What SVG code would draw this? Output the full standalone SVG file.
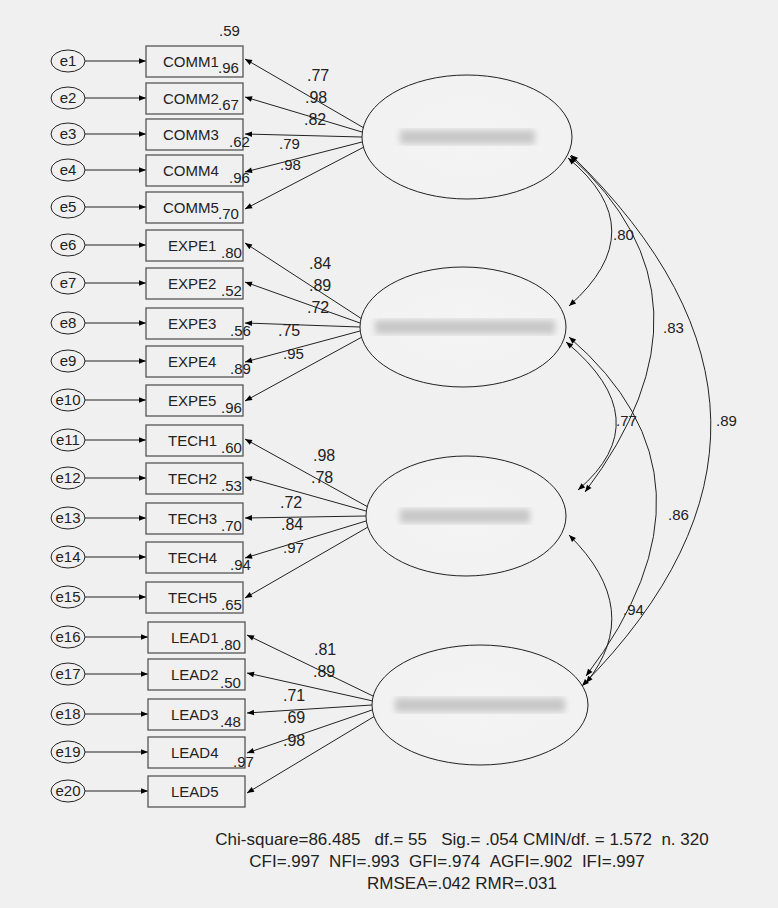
<svg xmlns="http://www.w3.org/2000/svg" width="778" height="908" viewBox="0 0 778 908">
<defs>
<marker id="ah" viewBox="0 0 10 10" refX="10" refY="5" markerWidth="10" markerHeight="7" orient="auto-start-reverse" markerUnits="userSpaceOnUse"><path d="M0,1 L10,5 L0,9 z" fill="#000"/></marker>
<radialGradient id="lg" cx="0.5" cy="0.5" r="0.6"><stop offset="0" stop-color="#f4f4f4"/><stop offset="0.8" stop-color="#f2f2f2"/><stop offset="1" stop-color="#e4e4e4"/></radialGradient>
<filter id="bl"><feGaussianBlur stdDeviation="3"/></filter>
</defs>
<style>
text{font-family:"Liberation Sans",Arial,sans-serif;fill:#222}
.b{fill:#f0f0f0;stroke:#555;stroke-width:1.3}
.e{fill:#f0f0f0;stroke:#222;stroke-width:1}
.l{fill:url(#lg);stroke:#222;stroke-width:1}
.c line{stroke:#222;stroke-width:1;marker-end:url(#ah)}
.cc{stroke:#222;stroke-width:1;fill:none;marker-end:url(#ah);marker-start:url(#ah)}
.t{font-size:15px}
.n{font-size:16px}
.sm{font-size:15px}
.f{font-size:17px}
</style>
<rect width="778" height="908" fill="#f0f0f0"/>
<g id="connectors">
<g class="c">
<line x1="85" y1="61" x2="146" y2="61"/><line x1="85" y1="98" x2="146" y2="98"/><line x1="85" y1="134" x2="146" y2="134"/><line x1="85" y1="170" x2="146" y2="170"/><line x1="85" y1="207" x2="146" y2="207"/>
<line x1="85" y1="245" x2="146" y2="245"/><line x1="85" y1="283" x2="146" y2="283"/><line x1="85" y1="323" x2="146" y2="323"/><line x1="85" y1="361" x2="146" y2="361"/><line x1="85" y1="400" x2="146" y2="400"/>
<line x1="85" y1="440" x2="146" y2="440"/><line x1="85" y1="478" x2="146" y2="478"/><line x1="85" y1="518" x2="146" y2="518"/><line x1="85" y1="557" x2="146" y2="557"/><line x1="85" y1="597" x2="146" y2="597"/>
<line x1="85" y1="637" x2="148" y2="637"/><line x1="85" y1="674" x2="148" y2="674"/><line x1="85" y1="714" x2="148" y2="714"/><line x1="85" y1="752" x2="148" y2="752"/><line x1="85" y1="791" x2="148" y2="791"/>
<line x1="364" y1="128" x2="245" y2="59"/><line x1="362" y1="132" x2="245" y2="97"/><line x1="362" y1="137" x2="245" y2="134"/><line x1="362" y1="142" x2="245" y2="172"/><line x1="364" y1="147" x2="245" y2="209"/>
<line x1="362" y1="319" x2="245" y2="243"/><line x1="360" y1="323" x2="245" y2="282"/><line x1="360" y1="327" x2="245" y2="323"/><line x1="360" y1="331" x2="245" y2="362"/><line x1="362" y1="337" x2="245" y2="401"/>
<line x1="368" y1="507" x2="245" y2="439"/><line x1="366" y1="511" x2="245" y2="477"/><line x1="366" y1="516" x2="245" y2="518"/><line x1="366" y1="521" x2="245" y2="558"/><line x1="368" y1="527" x2="245" y2="598"/>
<line x1="375" y1="697" x2="247" y2="635"/><line x1="373" y1="701" x2="247" y2="673"/><line x1="372" y1="705" x2="247" y2="713"/><line x1="372" y1="710" x2="247" y2="753"/><line x1="375" y1="716" x2="247" y2="793"/>
</g>
<path class="cc" d="M568,158Q655,230 569,306"/>
<path class="cc" d="M570,156Q730,300 585,492"/>
<path class="cc" d="M571,155Q845,420 582,686"/>
<path class="cc" d="M566,342Q660,420 578,490"/>
<path class="cc" d="M569,337Q735,480 586,676"/>
<path class="cc" d="M569,535Q645,610 586,683"/>
</g>
<g id="errors">
<g id="e1n"><ellipse class="e" cx="68" cy="61" rx="17" ry="11"/><text class="t" x="68" y="66" text-anchor="middle">e1</text></g>
<g id="e2n"><ellipse class="e" cx="68" cy="98" rx="17" ry="11"/><text class="t" x="68" y="103" text-anchor="middle">e2</text></g>
<g id="e3n"><ellipse class="e" cx="68" cy="134" rx="17" ry="11"/><text class="t" x="68" y="139" text-anchor="middle">e3</text></g>
<g id="e4n"><ellipse class="e" cx="68" cy="170" rx="17" ry="11"/><text class="t" x="68" y="175" text-anchor="middle">e4</text></g>
<g id="e5n"><ellipse class="e" cx="68" cy="207" rx="17" ry="11"/><text class="t" x="68" y="212" text-anchor="middle">e5</text></g>
<g id="e6n"><ellipse class="e" cx="68" cy="245" rx="17" ry="11"/><text class="t" x="68" y="250" text-anchor="middle">e6</text></g>
<g id="e7n"><ellipse class="e" cx="68" cy="283" rx="17" ry="11"/><text class="t" x="68" y="288" text-anchor="middle">e7</text></g>
<g id="e8n"><ellipse class="e" cx="68" cy="323" rx="17" ry="11"/><text class="t" x="68" y="328" text-anchor="middle">e8</text></g>
<g id="e9n"><ellipse class="e" cx="68" cy="361" rx="17" ry="11"/><text class="t" x="68" y="366" text-anchor="middle">e9</text></g>
<g id="e10n"><ellipse class="e" cx="68" cy="400" rx="17" ry="11"/><text class="t" x="68" y="405" text-anchor="middle">e10</text></g>
<g id="e11n"><ellipse class="e" cx="68" cy="440" rx="17" ry="11"/><text class="t" x="68" y="445" text-anchor="middle">e11</text></g>
<g id="e12n"><ellipse class="e" cx="68" cy="478" rx="17" ry="11"/><text class="t" x="68" y="483" text-anchor="middle">e12</text></g>
<g id="e13n"><ellipse class="e" cx="68" cy="518" rx="17" ry="11"/><text class="t" x="68" y="523" text-anchor="middle">e13</text></g>
<g id="e14n"><ellipse class="e" cx="68" cy="557" rx="17" ry="11"/><text class="t" x="68" y="562" text-anchor="middle">e14</text></g>
<g id="e15n"><ellipse class="e" cx="68" cy="597" rx="17" ry="11"/><text class="t" x="68" y="602" text-anchor="middle">e15</text></g>
<g id="e16n"><ellipse class="e" cx="68" cy="637" rx="17" ry="11"/><text class="t" x="68" y="642" text-anchor="middle">e16</text></g>
<g id="e17n"><ellipse class="e" cx="68" cy="674" rx="17" ry="11"/><text class="t" x="68" y="679" text-anchor="middle">e17</text></g>
<g id="e18n"><ellipse class="e" cx="68" cy="714" rx="17" ry="11"/><text class="t" x="68" y="719" text-anchor="middle">e18</text></g>
<g id="e19n"><ellipse class="e" cx="68" cy="752" rx="17" ry="11"/><text class="t" x="68" y="757" text-anchor="middle">e19</text></g>
<g id="e20n"><ellipse class="e" cx="68" cy="791" rx="17" ry="11"/><text class="t" x="68" y="796" text-anchor="middle">e20</text></g>
</g>
<g id="items">
<g id="COMM1"><rect class="b" x="146" y="46" width="97" height="31"/><text class="t" x="163" y="67">COMM1</text></g>
<g id="COMM2"><rect class="b" x="146" y="83" width="97" height="31"/><text class="t" x="163" y="104">COMM2</text></g>
<g id="COMM3"><rect class="b" x="146" y="119" width="97" height="31"/><text class="t" x="163" y="140">COMM3</text></g>
<g id="COMM4"><rect class="b" x="146" y="155" width="97" height="31"/><text class="t" x="163" y="176">COMM4</text></g>
<g id="COMM5"><rect class="b" x="146" y="192" width="97" height="31"/><text class="t" x="163" y="213">COMM5</text></g>
<g id="EXPE1"><rect class="b" x="146" y="230" width="97" height="31"/><text class="t" x="168" y="251">EXPE1</text></g>
<g id="EXPE2"><rect class="b" x="146" y="268" width="97" height="31"/><text class="t" x="168" y="289">EXPE2</text></g>
<g id="EXPE3"><rect class="b" x="146" y="308" width="97" height="31"/><text class="t" x="168" y="329">EXPE3</text></g>
<g id="EXPE4"><rect class="b" x="146" y="346" width="97" height="31"/><text class="t" x="168" y="367">EXPE4</text></g>
<g id="EXPE5"><rect class="b" x="146" y="385" width="97" height="31"/><text class="t" x="168" y="406">EXPE5</text></g>
<g id="TECH1"><rect class="b" x="146" y="425" width="97" height="31"/><text class="t" x="168" y="446">TECH1</text></g>
<g id="TECH2"><rect class="b" x="146" y="463" width="97" height="31"/><text class="t" x="168" y="484">TECH2</text></g>
<g id="TECH3"><rect class="b" x="146" y="503" width="97" height="31"/><text class="t" x="168" y="524">TECH3</text></g>
<g id="TECH4"><rect class="b" x="146" y="542" width="97" height="31"/><text class="t" x="168" y="563">TECH4</text></g>
<g id="TECH5"><rect class="b" x="146" y="582" width="97" height="31"/><text class="t" x="168" y="603">TECH5</text></g>
<g id="LEAD1"><rect class="b" x="148" y="622" width="97" height="31"/><text class="t" x="171" y="643">LEAD1</text></g>
<g id="LEAD2"><rect class="b" x="148" y="659" width="97" height="31"/><text class="t" x="171" y="680">LEAD2</text></g>
<g id="LEAD3"><rect class="b" x="148" y="699" width="97" height="31"/><text class="t" x="171" y="720">LEAD3</text></g>
<g id="LEAD4"><rect class="b" x="148" y="737" width="97" height="31"/><text class="t" x="171" y="758">LEAD4</text></g>
<g id="LEAD5"><rect class="b" x="148" y="776" width="97" height="31"/><text class="t" x="171" y="797">LEAD5</text></g>
</g>
<g id="latents">
<g id="F1"><ellipse class="l" cx="467" cy="137" rx="105" ry="62"/><rect x="400" y="130" width="135" height="14" fill="#c8c8c8" filter="url(#bl)"/></g>
<g id="F2"><ellipse class="l" cx="463" cy="327" rx="103" ry="60"/><rect x="375" y="320" width="180" height="14" fill="#c8c8c8" filter="url(#bl)"/></g>
<g id="F3"><ellipse class="l" cx="466" cy="516" rx="100" ry="60"/><rect x="400" y="509" width="130" height="14" fill="#c8c8c8" filter="url(#bl)"/></g>
<g id="F4"><ellipse class="l" cx="480" cy="705" rx="108" ry="60"/><rect x="395" y="698" width="170" height="14" fill="#c8c8c8" filter="url(#bl)"/></g>
</g>
<g id="values">
<text x="219" y="36" class="sm">.59</text>
<text x="218" y="73" class="sm">.96</text>
<text x="218" y="110" class="sm">.67</text>
<text x="229" y="147" class="sm">.62</text>
<text x="229" y="183" class="sm">.96</text>
<text x="218" y="219" class="sm">.70</text>
<text x="221" y="258" class="sm">.80</text>
<text x="221" y="296" class="sm">.52</text>
<text x="230" y="336" class="sm">.56</text>
<text x="230" y="374" class="sm">.89</text>
<text x="221" y="413" class="sm">.96</text>
<text x="221" y="453" class="sm">.60</text>
<text x="221" y="491" class="sm">.53</text>
<text x="221" y="531" class="sm">.70</text>
<text x="230" y="570" class="sm">.94</text>
<text x="221" y="610" class="sm">.65</text>
<text x="220" y="650" class="sm">.80</text>
<text x="220" y="688" class="sm">.50</text>
<text x="220" y="727" class="sm">.48</text>
<text x="233" y="767" class="sm">.97</text>
<text class="n" x="307" y="81">.77</text>
<text class="n" x="305" y="103">.98</text>
<text class="n" x="304" y="125">.82</text>
<text class="sm" x="279" y="149">.79</text>
<text class="sm" x="280" y="170">.98</text>
<text class="n" x="309" y="269">.84</text>
<text class="n" x="309" y="291">.89</text>
<text class="n" x="307" y="313">.72</text>
<text class="n" x="278" y="336">.75</text>
<text class="sm" x="283" y="359">.95</text>
<text class="n" x="313" y="461">.98</text>
<text class="n" x="311" y="483">.78</text>
<text class="n" x="280" y="508">.72</text>
<text class="n" x="281" y="530">.84</text>
<text class="sm" x="283" y="553">.97</text>
<text class="n" x="314" y="655">.81</text>
<text class="n" x="313" y="677">.89</text>
<text class="n" x="283" y="701">.71</text>
<text class="n" x="283" y="723">.69</text>
<text class="n" x="283" y="746">.98</text>
<text class="sm" x="613" y="240">.80</text>
<text class="sm" x="663" y="333">.83</text>
<text class="sm" x="716" y="426">.89</text>
<text class="sm" x="616" y="426">.77</text>
<text class="sm" x="668" y="520">.86</text>
<text class="sm" x="623" y="615">.94</text>
</g>
<g id="fit">
<text class="f" x="462" y="845" text-anchor="middle">Chi-square=86.485&#160;&#160;&#160;df.= 55&#160;&#160;&#160;Sig.= .054 CMIN/df. = 1.572&#160;&#160;n. 320</text>
<text class="f" x="447" y="867" text-anchor="middle">CFI=.997&#160;&#160;NFI=.993&#160;&#160;GFI=.974&#160;&#160;AGFI=.902&#160;&#160;IFI=.997</text>
<text class="f" x="462" y="889" text-anchor="middle">RMSEA=.042 RMR=.031</text>
</g>
</svg>
